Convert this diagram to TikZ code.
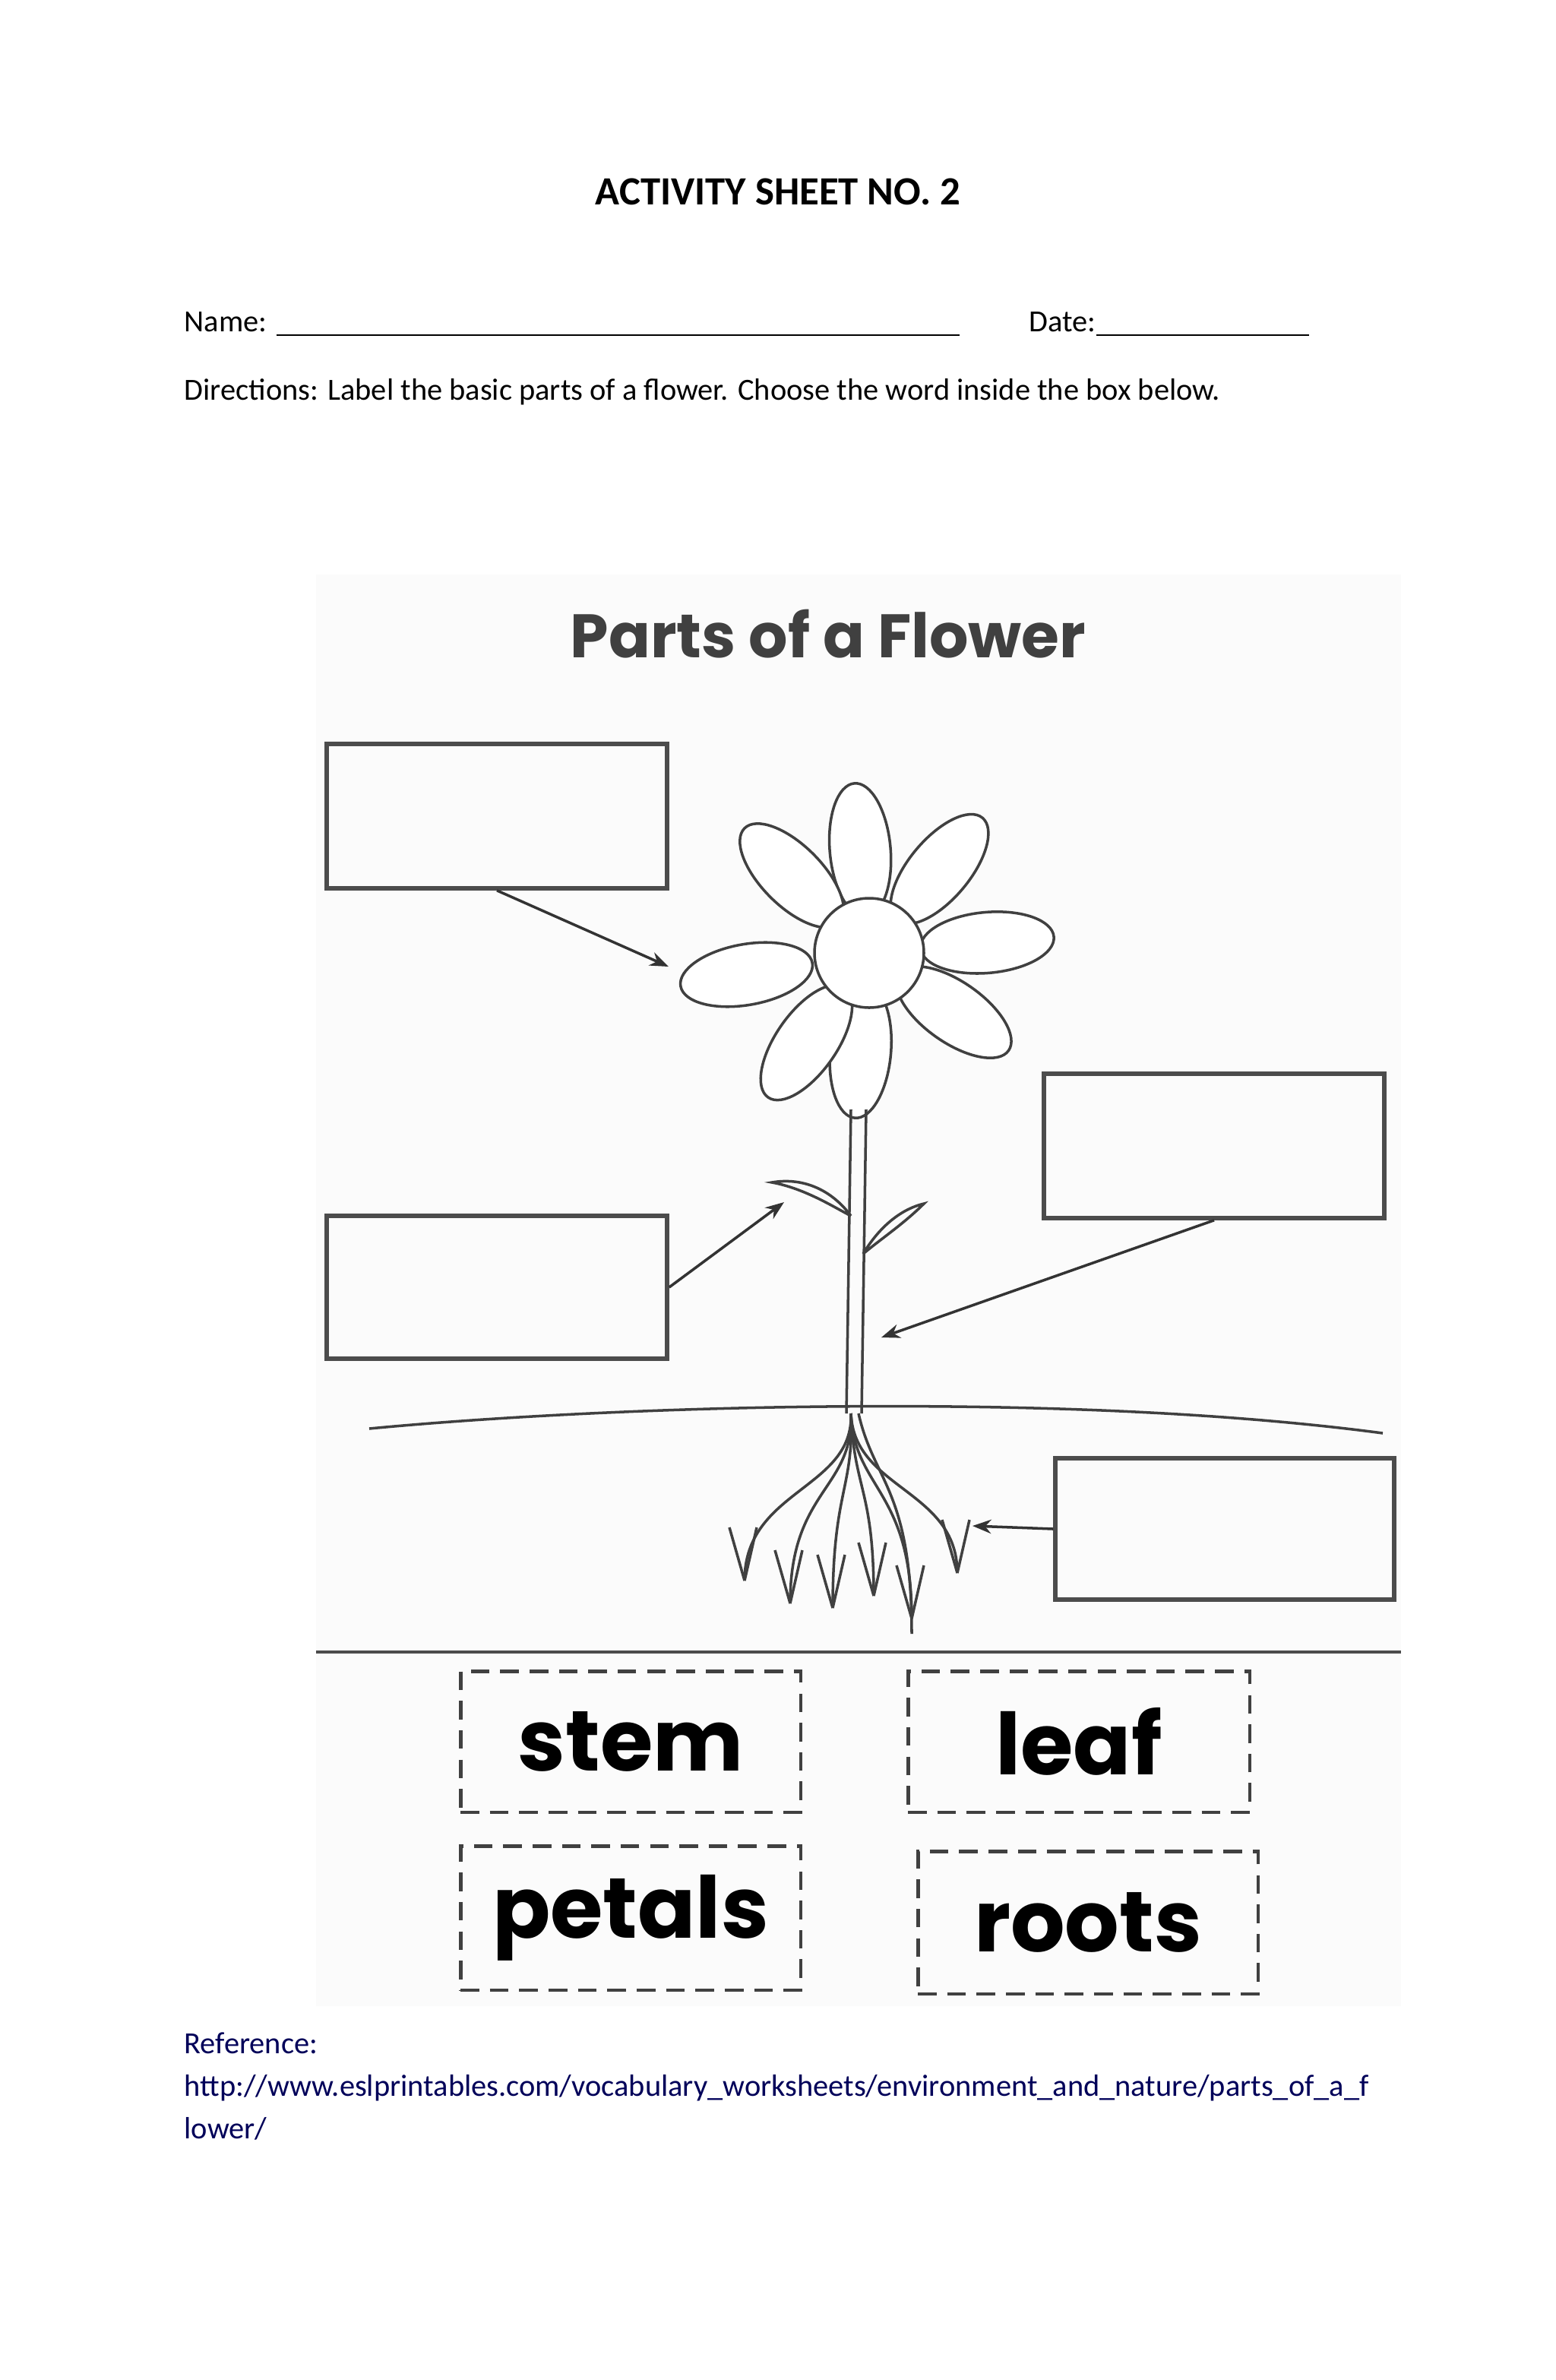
\documentclass[tikz,border=0pt]{standalone}
\usepackage{fontspec}
\setmainfont{Carlito}
\newfontfamily\cartoon{Poppins}
\usetikzlibrary{arrows.meta}
\begin{document}
\begin{tikzpicture}[x=0.02cm,y=-0.02cm,
  lbox/.style={draw=black!70,line width=1.6pt},
  wbox/.style={draw=black!75,line width=1.4pt,dash pattern=on 7pt off 4pt},
  arr/.style={draw=black!80,line width=1pt,-{Stealth[length=7pt]}},
  ln/.style={draw=black!75,line width=1pt},
  word/.style={font=\cartoon\bfseries\fontsize{32}{36}\selectfont,text=black},
  body/.style={font=\fontsize{11.5}{13}\selectfont,anchor=base west,inner sep=0pt}]
\useasboundingbox (0,0) rectangle (1024,1566);
\fill[white] (0,0) rectangle (1024,1566);
\node[font=\bfseries\fontsize{15}{17}\selectfont] (title) at (512,126) {ACTIVITY SHEET NO. 2};
\node[body] (name) at (121,218) {Name: \underline{\hspace{9cm}}};
\node[body] (date) at (677,218) {Date:\underline{\hspace{2.8cm}}};
\node[body] (dir) at (121,263) {Directions: Label the basic parts of a flower. Choose the word inside the box below.};
\fill[black!1.5] (208,378) rectangle (922,1320);
\node[font=\cartoon\bfseries\fontsize{23}{26}\selectfont,text=black!75] (pt) at (545,417) {Parts of a Flower};
% label boxes
\node[lbox,minimum width=4.48cm,minimum height=1.9cm] (b1) at (327,537) {};
\node[lbox,minimum width=4.48cm,minimum height=1.88cm] (b2) at (327,847) {};
\node[lbox,minimum width=4.48cm,minimum height=1.9cm] (b3) at (799,754) {};
\node[lbox,minimum width=4.46cm,minimum height=1.86cm] (b4) at (806,1006) {};
\coordinate (t1) at (440,636);
\coordinate (t2) at (516,791);
\coordinate (t3) at (580,880);
\coordinate (t4) at (640,1004);
\draw[arr] (b1.south) -- (t1);
\draw[arr] (b2.east) -- (t2);
\draw[arr] (b3.south) -- (t3);
\draw[arr] (b4.west) -- (t4);
% flower
\begin{scope}[ln,fill=white]
\foreach \a/\r in {95/65,35/68,-5/78,-50/72,-95/68,-135/72,170/82,125/72}
  \filldraw[rotate around={-\a:(572,627)}] (572,627) ++(\r,0) ellipse [x radius=44,y radius=20];
\filldraw (572,627) circle (36);
\end{scope}
\draw[ln] (560,730) -- (557,930);
\draw[ln] (570,730) -- (567,930);
\draw[ln] (560,800) .. controls (545,780) and (525,775) .. (508,778) .. controls (530,782) and (550,795) .. (560,800);
\draw[ln] (568,825) .. controls (580,805) and (595,795) .. (608,792) .. controls (595,805) and (580,815) .. (568,825);
% ground
\draw[ln] (243,940) .. controls (400,925) and (700,915) .. (910,943);
% roots
\foreach \ex/\ey in {490/1040,520/1055,548/1058,575/1050,600/1065,630/1035} {
  \draw[ln] (560,930) .. controls (562,980) and (\ex,980) .. (\ex,\ey);
  \draw[ln] (\ex,\ey) -- ++(-10,-35);
  \draw[ln] (\ex,\ey) -- ++(8,-35);
}
\draw[ln] (565,930) .. controls (575,975) and (600,980) .. (600,1075);
\draw[line width=1.2pt,black!70] (208,1087) -- (922,1087);
% words
\node[wbox,minimum width=4.48cm,minimum height=1.86cm] (w1) at (415,1146) {};
\node[word] at (w1) {stem};
\node[wbox,minimum width=4.5cm,minimum height=1.86cm] (w2) at (710,1146) {};
\node[word] at (w2) {leaf};
\node[wbox,minimum width=4.48cm,minimum height=1.9cm] (w3) at (415,1262) {};
\node[word] at (w3) {petals};
\node[wbox,minimum width=4.48cm,minimum height=1.88cm] (w4) at (716,1265) {};
\node[word] at (w4) {roots};
% reference
\begin{scope}[text=blue!35!black]
\node[body] (r1) at (121,1351) {Reference:};
\node[body] (r2) at (121,1379) {http://www.eslprintables.com/vocabulary\_worksheets/environment\_and\_nature/parts\_of\_a\_f};
\node[body] (r3) at (121,1407) {lower/};
\end{scope}
\end{tikzpicture}
\end{document}
